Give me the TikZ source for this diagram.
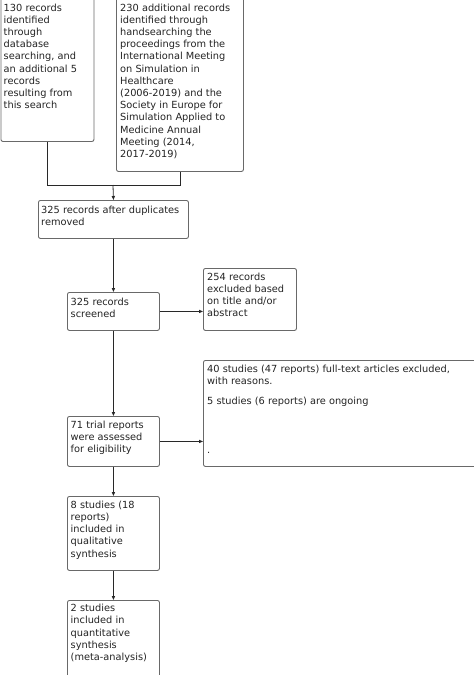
\documentclass[tikz,border=0pt]{standalone}
\usepackage{fontspec}
\setmainfont{DejaVu Sans}
\usetikzlibrary{arrows.meta}
\definecolor{boxgray}{RGB}{105,105,105}
\definecolor{linecol}{RGB}{40,40,40}
\definecolor{txtcol}{RGB}{35,35,35}
\newcommand{\tlines}[2]{\parbox[t]{#1}{\raggedright #2}}
\tikzset{
  box/.style={draw=boxgray, line width=0.9pt, rounded corners=2pt, anchor=north west, inner sep=0pt},
  txt/.style={anchor=base west, inner sep=0pt, text=txtcol, font=\fontsize{9.8}{12.2}\selectfont},
  conn/.style={draw=linecol, line width=0.8pt},
  arr/.style={conn, -{Triangle[length=4pt,width=3.2pt]}}
}
\begin{document}
\begin{tikzpicture}[x=1pt,y=-1pt]
\useasboundingbox (0,0) rectangle (474,675);
\clip (0,0) rectangle (474,675);
% boxes
\node[box, minimum width=93pt, minimum height=151pt] (b1) at (0.5,-10) {};
\node[box, minimum width=127pt, minimum height=181pt] (b2) at (116,-10) {};
\node[box, minimum width=150pt, minimum height=38pt] (b3) at (38,200) {};
\node[box, minimum width=92pt, minimum height=38pt] (b4) at (67,292) {};
\node[box, minimum width=93pt, minimum height=62pt] (b5) at (203,268) {};
\node[box, minimum width=275pt, minimum height=106pt] (b6) at (203,360) {};
\node[box, minimum width=92pt, minimum height=50pt] (b7) at (67,416) {};
\node[box, minimum width=92pt, minimum height=74pt] (b8) at (67,496) {};
\node[box, minimum width=92pt, minimum height=90pt] (b9) at (67,600) {};
% texts
\node[txt] (t1) at (3.5,11) {\tlines{88pt}{130 records\\identified\\through\\database\\searching, and\\an additional 5\\records\\resulting from\\this search}};
\node[txt] (t2) at (120,11) {\tlines{122pt}{230 additional records\\identified through\\handsearching the\\proceedings from the\\International Meeting\\on Simulation in\\Healthcare\\(2006-2019) and the\\Society in Europe for\\Simulation Applied to\\Medicine Annual\\Meeting (2014,\\2017-2019)}};
\node[txt] (t3) at (41,213.3) {\tlines{145pt}{325 records after duplicates\\removed}};
\node[txt] (t4) at (70.5,305) {\tlines{87pt}{325 records\\screened}};
\node[txt] (t5) at (207,280) {\tlines{87pt}{254 records\\excluded based\\on title and/or\\abstract}};
\node[txt] (t6a) at (207,372.3) {\tlines{262pt}{40 studies (47 reports) full-text articles excluded,\\with reasons.}};
\node[txt] (t6b) at (207,404) {5 studies (6 reports) are ongoing};
\node[txt] (t6c) at (207,453) {.};
\node[txt] (t7) at (70.5,428.3) {\tlines{87pt}{71 trial reports\\were assessed\\for eligibility}};
\node[txt] (t8) at (70.5,508.3) {\tlines{87pt}{8 studies (18\\reports)\\included in\\qualitative\\synthesis}};
\node[txt] (t9) at (70.5,611.7) {\tlines{87pt}{2 studies\\included in\\quantitative\\synthesis\\(meta-analysis)}};
% connectors
\coordinate (j) at (113,185);
\draw[conn] (b1.south) -- (b1.south |- j) -- (b2.south |- j) -- (b2.south);
\draw[arr] (j) -- (b3.north);
\draw[arr] (b3.south) -- (b4.north);
\draw[arr] (b4.east) -- (b4.east -| b5.west);
\draw[arr] (b4.south) -- (b7.north);
\draw[arr] (b7.east) -- (b7.east -| b6.west);
\draw[arr] (b7.south) -- (b8.north);
\draw[arr] (b8.south) -- (b9.north);
\end{tikzpicture}
\end{document}
